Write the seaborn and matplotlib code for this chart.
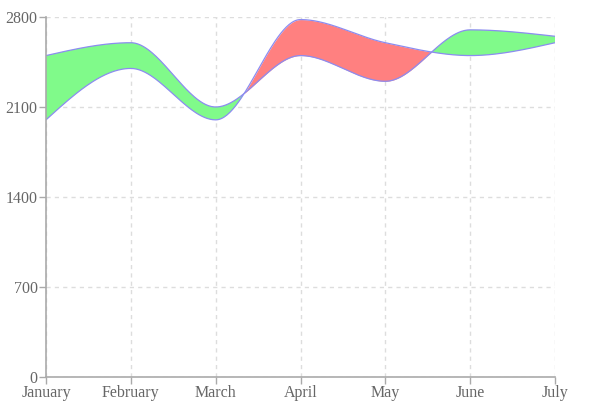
import numpy as np
import pandas as pd
import seaborn as sns
import matplotlib.pyplot as plt

months = ['January', 'February', 'March', 'April', 'May', 'June', 'July']
series_a = [2500, 2600, 2100, 2500, 2300, 2700, 2650]
series_b = [2000, 2400, 2000, 2780, 2600, 2500, 2600]
y_ticks = [0, 700, 1400, 2100, 2800]


def monotone_curve(y, n=60):
    # monotone cubic interpolation (same rules as d3 curveMonotoneX)
    y = np.asarray(y, dtype=float)
    x = np.arange(len(y), dtype=float)
    s = np.diff(y)
    t = np.zeros(len(y))
    for i in range(1, len(y) - 1):
        s0, s1 = s[i - 1], s[i]
        p = (s0 + s1) / 2
        t[i] = (np.sign(s0) + np.sign(s1)) * min(abs(s0), abs(s1), 0.5 * abs(p))
    t[0] = (3 * s[0] - t[1]) / 2
    t[-1] = (3 * s[-1] - t[-2]) / 2
    xs, ys = [], []
    for i in range(len(y) - 1):
        u = np.linspace(0, 1, n, endpoint=False)
        h00 = 2 * u**3 - 3 * u**2 + 1
        h10 = u**3 - 2 * u**2 + u
        h01 = -2 * u**3 + 3 * u**2
        h11 = u**3 - u**2
        xs.append(x[i] + u)
        ys.append(h00 * y[i] + h10 * t[i] + h01 * y[i + 1] + h11 * t[i + 1])
    xs.append([x[-1]])
    ys.append([y[-1]])
    return np.concatenate(xs), np.concatenate(ys)


xa, ya = monotone_curve(series_a)
xb, yb = monotone_curve(series_b)
curves = pd.DataFrame({'x': np.concatenate([xa, xb]),
                       'y': np.concatenate([ya, yb]),
                       'series': ['a'] * len(xa) + ['b'] * len(xb)})

sns.set_style('white')
plt.rcParams['font.family'] = ['Liberation Serif', 'DejaVu Serif']

fig = plt.figure(figsize=(5.89, 4.19), dpi=100)
ax = fig.add_axes([46 / 589, 42 / 419, 509 / 589, 360 / 419])

ax.fill_between(xa, ya, yb, where=ya >= yb, interpolate=True, color='#80fa8a', linewidth=0)
ax.fill_between(xa, ya, yb, where=ya < yb, interpolate=True, color='#ff8080', linewidth=0)
sns.lineplot(data=curves, x='x', y='y', units='series', estimator=None, sort=False,
             color='#8c8cf0', linewidth=0.9, ax=ax, legend=False)

ax.set_xlim(0, len(months) - 1)
ax.set_ylim(0, 2800)
ax.set_xticks(range(len(months)), labels=months)
ax.set_yticks(y_ticks)
ax.grid(True, color='#dddddd', linestyle=(0, (3, 3)), linewidth=1)
for side in ['top', 'right']:
    ax.spines[side].set_visible(False)
for side in ['left', 'bottom']:
    ax.spines[side].set_color('#aaaaaa')
    ax.spines[side].set_linewidth(1.2)
ax.tick_params(axis='both', which='both', direction='out', length=5, width=1,
               color='#aaaaaa', labelcolor='#666666', labelsize=11.5, pad=1,
               bottom=True, left=True)
ax.set_xlabel('')
ax.set_ylabel('')

fig.savefig('out.png', dpi=100)
